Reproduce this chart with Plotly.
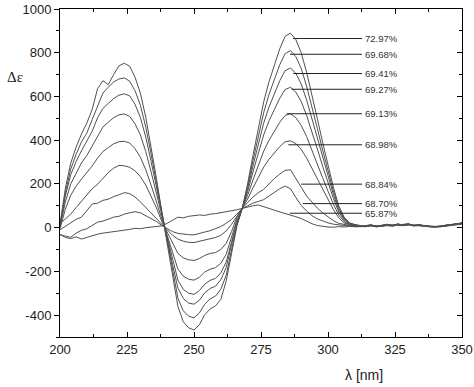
import plotly.graph_objects as go

wavelength = list(range(200, 351, 2))

c1 = [15, 180, 295, 368, 428, 478, 540, 635, 672, 654,
      700, 740, 752, 738, 688, 615, 505, 370, 225, 70,
      -68, -225, -360, -430, -458, -468, -444, -398, -372, -358,
      -328, -245, -110, 8, 88, 200, 330, 458, 575, 668,
      748, 818, 875, 890, 860, 800, 712, 610, 500, 390,
      285, 185, 100, 48, 22, 14, 10, 6, 12, 7,
      10, 14, 11, 16, 13, 17, 11, 13, 9, 7,
      5, 8, 10, 14, 17, 22]
c2 = [10, 160, 268, 335, 392, 432, 494, 558, 615, 642,
      666, 680, 685, 670, 626, 560, 460, 337, 205, 64,
      -57, -198, -322, -380, -405, -412, -390, -350, -326, -313,
      -282, -218, -96, 12, 88, 189, 306, 421, 526, 610,
      682, 745, 796, 810, 782, 728, 648, 555, 455, 355,
      259, 168, 91, 44, 21, 13, 7, 9, 14, 6,
      12, 16, 9, 14, 15, 18, 9, 12, 10, 5,
      6, 5, 12, 12, 19, 20]
c3 = [5, 145, 242, 302, 351, 394, 441, 502, 545, 568,
      590, 606, 612, 603, 564, 504, 414, 303, 185, 57,
      -49, -169, -276, -324, -345, -350, -332, -298, -278, -268,
      -238, -183, -78, 18, 88, 178, 282, 384, 478, 552,
      616, 672, 718, 730, 706, 657, 585, 500, 411, 320,
      234, 152, 82, 40, 19, 12, 9, 4, 10, 8,
      7, 13, 12, 15, 11, 14, 12, 10, 7, 6,
      3, 7, 9, 15, 15, 23]
c4 = [0, 118, 200, 252, 296, 330, 372, 420, 460, 482,
      503, 516, 520, 509, 475, 424, 348, 255, 155, 48,
      -42, -147, -240, -282, -300, -305, -288, -258, -241, -232,
      -207, -158, -64, 25, 88, 165, 255, 344, 424, 489,
      544, 592, 632, 642, 620, 577, 514, 440, 361, 281,
      205, 134, 72, 35, 17, 11, 8, 7, 9, 5,
      10, 12, 10, 17, 12, 15, 10, 14, 8, 4,
      5, 6, 8, 12, 18, 21]
c5 = [-5, 85, 148, 190, 222, 250, 282, 318, 348, 366,
      383, 393, 395, 387, 361, 322, 265, 194, 118, 37,
      -33, -115, -189, -222, -236, -240, -227, -203, -190, -183,
      -163, -122, -45, 35, 88, 148, 218, 287, 350, 400,
      444, 482, 513, 521, 503, 468, 417, 357, 293, 228,
      167, 108, 58, 28, 14, 9, 8, 6, 11, 6,
      8, 13, 11, 14, 13, 16, 10, 11, 9, 6,
      4, 5, 11, 13, 16, 20]
c6 = [18, 38, 62, 92, 120, 152, 178, 198, 225, 252,
      272, 285, 283, 276, 260, 233, 195, 145, 90, 28,
      -21, -72, -118, -138, -147, -150, -141, -127, -118, -114,
      -100, -72, -18, 48, 88, 131, 182, 232, 277, 313,
      344, 371, 393, 397, 385, 358, 319, 273, 224, 175,
      128, 83, 45, 22, 12, 8, 6, 8, 10, 7,
      9, 12, 10, 16, 12, 15, 11, 12, 8, 6,
      4, 7, 9, 13, 17, 19]
c7 = [-10, 5, 20, 38, 48, 80, 108, 112, 125, 130,
      142, 150, 160, 156, 140, 118, 92, 68, 42, 12,
      -10, -35, -52, -62, -67, -68, -62, -55, -50, -45,
      -35, -15, 15, 52, 88, 115, 140, 160, 175, 200,
      225, 245, 262, 265, 228, 185, 145, 115, 90, 68,
      48, 32, 20, 14, 10, 8, 6, 9, 11, 5,
      8, 14, 9, 15, 14, 16, 9, 13, 8, 5,
      5, 6, 10, 13, 16, 21]
c8 = [-33, -40, -44, -25, -12, -5, 10, 25, 30, 38,
      48, 52, 62, 68, 73, 68, 55, 42, 28, 10,
      -5, -18, -26, -30, -32, -33, -28, -20, -14, -5,
      5, 20, 38, 62, 88, 100, 112, 120, 128, 145,
      162, 178, 190, 178, 138, 102, 76, 55, 40, 30,
      22, 16, 12, 9, 7, 6, 5, 7, 9, 4,
      7, 11, 8, 13, 11, 14, 9, 10, 7, 4,
      3, 5, 8, 12, 15, 18]
c9 = [-30, -45, -50, -42, -52, -45, -35, -30, -25, -22,
      -18, -15, -10, -8, -3, -5, 0, 2, 5, 8,
      20, 35, 48, 45, 52, 55, 58, 56, 62, 64,
      68, 72, 76, 82, 88, 95, 100, 104, 95, 88,
      80, 72, 65, 60, 50, 42, 30, 18, 10, 5,
      3, 2, 5, 3, 6, 4, 3, 5, 8, 4,
      6, 9, 7, 11, 9, 12, 8, 9, 6, 3,
      2, 4, 7, 10, 13, 16]

series = [c1, c2, c3, c4, c5, c6, c7, c8, c9]

label_text = ["72.97%", "69.68%", "69.41%", "69.27%", "69.13%",
              "68.98%", "68.84%", "68.70%", "65.87%"]
label_y = [865, 793, 705, 633, 521, 379, 199, 110, 66]
label_x0 = [287, 285.8, 287, 286.4, 284.6, 285.2, 290, 290.6, 285.8]
label_x1 = 312.7

x_ticks = [200, 225, 250, 275, 300, 325, 350]
y_ticks = [-400, -200, 0, 200, 400, 600, 800, 1000]
y_ticktext = ["-400", "-200", "0", "200", "400", "600", "800", "1000"]

fig = go.Figure()
for name, ys in zip(label_text, series):
    fig.add_trace(go.Scatter(x=wavelength, y=ys, mode="lines", name=name,
                             line=dict(color="#505050", width=1),
                             showlegend=False, hoverinfo="skip"))

fig.add_trace(go.Scatter(x=[None], y=[None], yaxis="y2", mode="lines",
                         showlegend=False, hoverinfo="skip"))

for t, yv, x0 in zip(label_text, label_y, label_x0):
    fig.add_shape(type="line", xref="x", yref="y", x0=x0, x1=label_x1,
                  y0=yv, y1=yv, line=dict(color="#222222", width=1))
    fig.add_annotation(x=label_x1, y=yv, xref="x", yref="y", text=t,
                       showarrow=False, xanchor="left", yanchor="middle",
                       xshift=1, font=dict(family="Liberation Sans, Arial", size=9.5, color="#333333"))

font_main = dict(family="Liberation Sans, Arial", size=13, color="#222222")

fig.update_layout(
    width=474, height=387,
    margin=dict(l=60, r=12, t=9, b=50, autoexpand=False),
    plot_bgcolor="white", paper_bgcolor="white",
    font=font_main,
    xaxis=dict(range=[200, 350], tickvals=x_ticks, ticks="inside", ticklen=5,
               tickcolor="black", showline=True, linecolor="black", linewidth=1,
               mirror="ticks", showgrid=False, zeroline=False, tickfont=font_main,
               automargin=False,
               minor=dict(tick0=200, dtick=12.5, ticks="inside", ticklen=3, tickcolor="black")),
    yaxis=dict(range=[-500, 1000], tickvals=y_ticks, ticktext=y_ticktext,
               ticks="outside", ticklen=5, tickcolor="black", showline=True,
               linecolor="black", linewidth=1, mirror=True, showgrid=False,
               zeroline=False, tickfont=font_main, automargin=False,
               minor=dict(tick0=0, dtick=100, ticks="outside", ticklen=3, tickcolor="black")),
    yaxis2=dict(range=[-500, 1000], overlaying="y", side="right", tickvals=y_ticks,
                ticks="inside", ticklen=5, tickcolor="black", showticklabels=False,
                showline=False, showgrid=False, zeroline=False, automargin=False,
                minor=dict(tick0=0, dtick=100, ticks="inside", ticklen=3, tickcolor="black")),
)

fig.add_annotation(x=-0.112, y=0.793, xref="paper", yref="paper", text="Δε",
                   showarrow=False, xanchor="center", yanchor="middle",
                   font=dict(family="Liberation Serif, Times New Roman", size=15, color="#222222"))
fig.add_annotation(x=0.756, y=-0.116, xref="paper", yref="paper", text="λ [nm]",
                   showarrow=False, xanchor="center", yanchor="middle",
                   font=dict(family="Liberation Sans, Arial", size=14, color="#222222"))

fig.write_html("out.html",
               config={"displayModeBar": False, "staticPlot": True},
               post_script="document.body.style.margin='0';document.body.style.padding='0';document.body.style.overflow='hidden';")
